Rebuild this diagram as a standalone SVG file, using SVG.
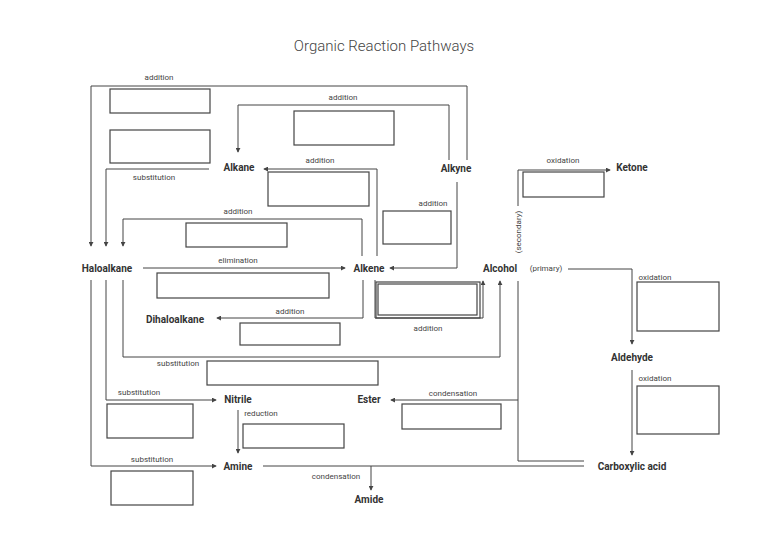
<svg xmlns="http://www.w3.org/2000/svg" width="768" height="543" viewBox="0 0 768 543">
<style>
.n{font-family:Roboto,"Liberation Sans",sans-serif;font-weight:bold;font-size:10px;fill:#333;text-anchor:middle}
.l{font-family:Roboto,"Liberation Sans",sans-serif;font-size:8px;fill:#444;text-anchor:middle}
.b{fill:none;stroke:#444;stroke-width:1.2}
.c path{fill:none;stroke:#444;stroke-width:1;marker-end:url(#a)}
.c path.p{marker-end:none}
</style>
<defs><marker id="a" viewBox="0 0 6 6" refX="5" refY="3" markerWidth="5" markerHeight="5" orient="auto"><path d="M0,0L6,3L0,6z" fill="#444"/></marker></defs>
<rect width="768" height="543" fill="#fff"/>
<text x="384" y="51" font-family="Roboto,'Liberation Sans',sans-serif" font-size="15" fill="#444" text-anchor="middle" font-weight="300">Organic Reaction Pathways</text>
<g class="c" id="connectors">
<path d="M467,160V86H91V246"/>
<path d="M449,160V105H238V152"/>
<path d="M377,256V169H264"/>
<path d="M209,169H106V246"/>
<path d="M362,256V219H123V246"/>
<path d="M143,268H345"/>
<path d="M457,182V268H390"/>
<path d="M363,280V318H217"/>
<path d="M375,280V318H483V281"/>
<path d="M123,280V357H500V281"/>
<path d="M106,280V400H216"/>
<path d="M91,280V466H216"/>
<path d="M238,410V453"/>
<path class="p" d="M263,466H584"/>
<path d="M371,466V490"/>
<path class="p" d="M518,281V461H584"/>
<path d="M518,400H391"/>
<path d="M518,206V170H610"/>
<path d="M568,269H632V344"/>
<path d="M632,370V455"/>
</g>
<g id="labels">
<text class="l" x="159" y="80">addition</text>
<text class="l" x="343" y="100">addition</text>
<text class="l" x="320" y="163">addition</text>
<text class="l" x="154" y="180">substitution</text>
<text class="l" x="238" y="214">addition</text>
<text class="l" x="238" y="263">elimination</text>
<text class="l" x="433" y="206">addition</text>
<text class="l" x="290" y="314">addition</text>
<text class="l" x="428" y="331">addition</text>
<text class="l" x="178" y="366">substitution</text>
<text class="l" x="139" y="395">substitution</text>
<text class="l" x="152" y="462">substitution</text>
<text class="l" x="261" y="416">reduction</text>
<text class="l" x="336" y="479">condensation</text>
<text class="l" x="453" y="396">condensation</text>
<text class="l" x="563" y="163">oxidation</text>
<text class="l" x="655" y="280">oxidation</text>
<text class="l" x="655" y="381">oxidation</text>
<text class="l" x="546" y="271">(primary)</text>
<text class="l" transform="translate(521,232) rotate(-90)">(secondary)</text>
</g>
<g id="boxes">
<rect class="b" x="110" y="89" width="100" height="24"/>
<rect class="b" x="110" y="130" width="100" height="33"/>
<rect class="b" x="294" y="111" width="100" height="34"/>
<rect class="b" x="268" y="172" width="101" height="34"/>
<rect class="b" x="186" y="223" width="101" height="24"/>
<rect class="b" x="157" y="273" width="172" height="25"/>
<rect class="b" x="383" y="211" width="68" height="33"/>
<rect class="b" x="376" y="282" width="104" height="36"/>
<rect class="b" x="378" y="284" width="99" height="31"/>
<rect class="b" x="240" y="323" width="100" height="22"/>
<rect class="b" x="207" y="361" width="171" height="24"/>
<rect class="b" x="107" y="404" width="86" height="34"/>
<rect class="b" x="243" y="424" width="101" height="24"/>
<rect class="b" x="402" y="404" width="99" height="25"/>
<rect class="b" x="111" y="471" width="82" height="34"/>
<rect class="b" x="523" y="172" width="81" height="25"/>
<rect class="b" x="637" y="282" width="82" height="49"/>
<rect class="b" x="637" y="386" width="82" height="48"/>
</g>
<g id="alkane"><text class="n" x="239" y="171">Alkane</text></g>
<g id="alkyne"><text class="n" x="456" y="172">Alkyne</text></g>
<g id="haloalkane"><text class="n" x="107" y="272">Haloalkane</text></g>
<g id="alkene"><text class="n" x="369" y="272">Alkene</text></g>
<g id="alcohol"><text class="n" x="500" y="272">Alcohol</text></g>
<g id="ketone"><text class="n" x="632" y="171">Ketone</text></g>
<g id="aldehyde"><text class="n" x="632" y="361">Aldehyde</text></g>
<g id="dihaloalkane"><text class="n" x="175" y="323">Dihaloalkane</text></g>
<g id="nitrile"><text class="n" x="238" y="403">Nitrile</text></g>
<g id="ester"><text class="n" x="369" y="403">Ester</text></g>
<g id="amine"><text class="n" x="238" y="470">Amine</text></g>
<g id="carboxylic"><text class="n" x="632" y="470">Carboxylic acid</text></g>
<g id="amide"><text class="n" x="369" y="503">Amide</text></g>
</svg>
